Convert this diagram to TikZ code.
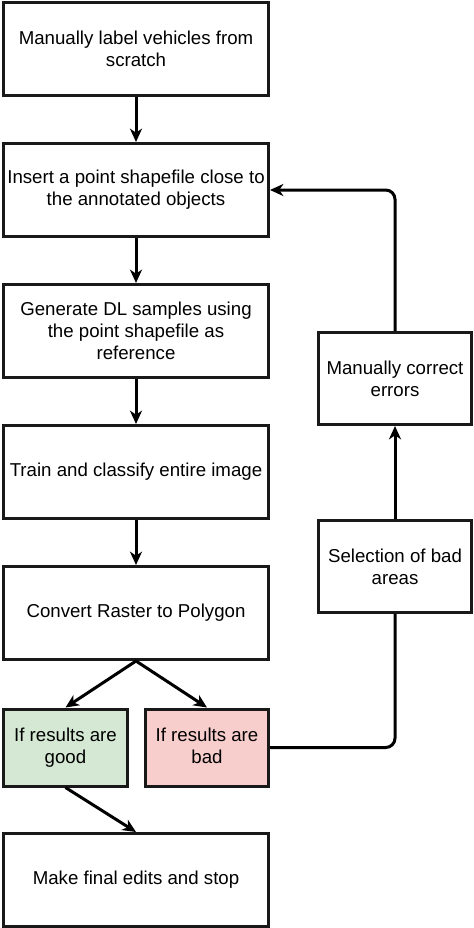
\documentclass[tikz,border=0pt]{standalone}
\usepackage{fontspec}
\setmainfont{Liberation Sans}
\usepackage{xcolor}
\usetikzlibrary{shapes,arrows.meta,positioning,calc}
\definecolor{goodfill}{HTML}{D5E8D4}
\definecolor{badfill}{HTML}{F8CECC}

\begin{document}
\begin{tikzpicture}[x=0.75pt, y=-0.75pt, line width=2.25pt, >={Stealth[length=10pt, width=9pt, inset=3pt]}]
  \tikzstyle{stepbox}=[rectangle, draw=black!90, fill=white, minimum width=198.75pt, minimum height=69.75pt, align=center, font=\fontsize{14pt}{16.5pt}\selectfont, inner sep=2pt]
  \tikzstyle{sidebox}=[stepbox, minimum width=114.75pt, minimum height=69pt]
  \tikzstyle{resbox}=[stepbox, minimum width=92.5pt, minimum height=57.75pt]

  % marco
  \useasboundingbox (0,0) rectangle (474,928);

  % Pasos principales
  \node[stepbox] (label) at (136,49) {Manually label vehicles from\\scratch};
  \node[stepbox] (insert) at (136,190) {Insert a point shapefile close to\\the annotated objects};
  \node[stepbox] (samples) at (136,331) {Generate DL samples using\\the point shapefile as\\reference};
  \node[stepbox] (train) at (136,472) {Train and classify entire image};
  \node[stepbox] (convert) at (136,613) {Convert Raster to Polygon};
  \node[stepbox] (final) at (136,880) {Make final edits and stop};

  % Resultados
  \node[resbox, fill=goodfill] (good) at (65.5,747.5) {If results are\\good};
  \node[resbox, fill=badfill] (bad) at (207,747.5) {If results are\\bad\vphantom{g}};

  % Correccion
  \node[sidebox] (fix) at (395,378.5) {Manually correct\\errors};
  \node[sidebox] (select) at (395,566.5) {Selection of bad\\areas};

  % Conexiones
  \draw[->] (label) -- (insert);
  \draw[->] (insert) -- (samples);
  \draw[->] (samples) -- (train);
  \draw[->] (train) -- (convert);
  \draw[->] (convert.south) -- (good.north);
  \draw[->] (convert.south) -- (bad.north);
  \draw[->] (good.south) -- (final.north);
  \draw[rounded corners=7pt] (bad.east) -| (select.south);
  \draw[->] (select) -- (fix);
  \draw[->, rounded corners=7pt] (fix.north) |- (insert.east);
\end{tikzpicture}
\end{document}
